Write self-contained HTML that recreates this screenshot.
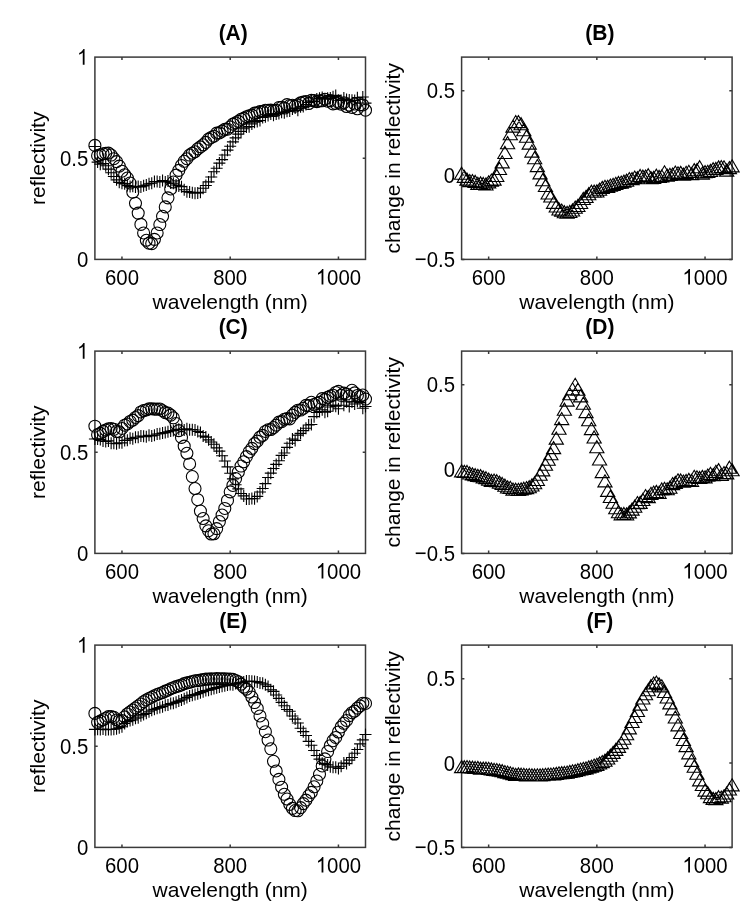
<!DOCTYPE html>
<html><head><meta charset="utf-8"><style>
html,body{margin:0;padding:0;background:#fff;}
svg{display:block;filter:blur(0.35px);}
text{font-family:"Liberation Sans",sans-serif;font-size:21px;fill:#000;}
.ax{fill:none;stroke:#3a3a3a;stroke-width:1.5;}
.mk{fill:none;stroke:#000;stroke-width:1.1;}
</style></head><body>
<svg width="750" height="910" viewBox="0 0 750 910">
<rect width="750" height="910" fill="#fff"/>
<rect x="94.9" y="57.1" width="270.60" height="202.30" class="ax"/>
<path d="M121.96 57.1v2.8M121.96 259.4v-2.8M230.20 57.1v2.8M230.20 259.4v-2.8M338.44 57.1v2.8M338.44 259.4v-2.8M94.9 158.25h2.8M365.5 158.25h-2.8" class="ax"/>
<text transform="translate(121.96,284.60) scale(0.97,1.08)" text-anchor="middle">600</text>
<text transform="translate(230.20,284.60) scale(0.97,1.08)" text-anchor="middle">800</text>
<path transform="translate(315.78,284.60) scale(0.00995,-0.01107)" d="M763 0H583V1098Q518 1038 412 979Q307 920 223 890V1057Q374 1124 487 1221Q600 1318 647 1409H763Z" fill="#000"/>
<text transform="translate(327.11,284.60) scale(0.97,1.08)">000</text>
<text transform="translate(88.30,267.00) scale(0.97,1.08)" text-anchor="end">0</text>
<text transform="translate(88.30,165.85) scale(0.97,1.08)" text-anchor="end">0.5</text>
<path transform="translate(76.97,64.70) scale(0.00995,-0.01107)" d="M763 0H583V1098Q518 1038 412 979Q307 920 223 890V1057Q374 1124 487 1221Q600 1318 647 1409H763Z" fill="#000"/>
<text x="230.20" y="309.0" text-anchor="middle">wavelength (nm)</text>
<text transform="translate(45,158.25) rotate(-90)" text-anchor="middle">reflectivity</text>
<text transform="translate(233.20,40.20) scale(1.0,1.06)" text-anchor="middle" font-weight="bold">(A)</text>
<rect x="461.6" y="57.1" width="270.50" height="202.30" class="ax"/>
<path d="M488.65 57.1v2.8M488.65 259.4v-2.8M596.85 57.1v2.8M596.85 259.4v-2.8M705.05 57.1v2.8M705.05 259.4v-2.8M461.6 259.40h2.8M732.1 259.40h-2.8M461.6 175.11h2.8M732.1 175.11h-2.8M461.6 90.82h2.8M732.1 90.82h-2.8" class="ax"/>
<text transform="translate(488.65,284.60) scale(0.97,1.08)" text-anchor="middle">600</text>
<text transform="translate(596.85,284.60) scale(0.97,1.08)" text-anchor="middle">800</text>
<path transform="translate(682.39,284.60) scale(0.00995,-0.01107)" d="M763 0H583V1098Q518 1038 412 979Q307 920 223 890V1057Q374 1124 487 1221Q600 1318 647 1409H763Z" fill="#000"/>
<text transform="translate(693.72,284.60) scale(0.97,1.08)">000</text>
<text transform="translate(455.00,267.00) scale(0.97,1.08)" text-anchor="end">−0.5</text>
<text transform="translate(455.00,182.71) scale(0.97,1.08)" text-anchor="end">0</text>
<text transform="translate(455.00,98.42) scale(0.97,1.08)" text-anchor="end">0.5</text>
<text x="596.85" y="309.0" text-anchor="middle">wavelength (nm)</text>
<text transform="translate(399.7,158.25) rotate(-90)" text-anchor="middle">change in reflectivity</text>
<text transform="translate(599.85,40.20) scale(1.0,1.06)" text-anchor="middle" font-weight="bold">(B)</text>
<rect x="94.9" y="351.1" width="270.60" height="202.30" class="ax"/>
<path d="M121.96 351.1v2.8M121.96 553.4v-2.8M230.20 351.1v2.8M230.20 553.4v-2.8M338.44 351.1v2.8M338.44 553.4v-2.8M94.9 452.25h2.8M365.5 452.25h-2.8" class="ax"/>
<text transform="translate(121.96,578.60) scale(0.97,1.08)" text-anchor="middle">600</text>
<text transform="translate(230.20,578.60) scale(0.97,1.08)" text-anchor="middle">800</text>
<path transform="translate(315.78,578.60) scale(0.00995,-0.01107)" d="M763 0H583V1098Q518 1038 412 979Q307 920 223 890V1057Q374 1124 487 1221Q600 1318 647 1409H763Z" fill="#000"/>
<text transform="translate(327.11,578.60) scale(0.97,1.08)">000</text>
<text transform="translate(88.30,561.00) scale(0.97,1.08)" text-anchor="end">0</text>
<text transform="translate(88.30,459.85) scale(0.97,1.08)" text-anchor="end">0.5</text>
<path transform="translate(76.97,358.70) scale(0.00995,-0.01107)" d="M763 0H583V1098Q518 1038 412 979Q307 920 223 890V1057Q374 1124 487 1221Q600 1318 647 1409H763Z" fill="#000"/>
<text x="230.20" y="603.0" text-anchor="middle">wavelength (nm)</text>
<text transform="translate(45,452.25) rotate(-90)" text-anchor="middle">reflectivity</text>
<text transform="translate(233.20,334.20) scale(1.0,1.06)" text-anchor="middle" font-weight="bold">(C)</text>
<rect x="461.6" y="351.1" width="270.50" height="202.30" class="ax"/>
<path d="M488.65 351.1v2.8M488.65 553.4v-2.8M596.85 351.1v2.8M596.85 553.4v-2.8M705.05 351.1v2.8M705.05 553.4v-2.8M461.6 553.40h2.8M732.1 553.40h-2.8M461.6 469.11h2.8M732.1 469.11h-2.8M461.6 384.82h2.8M732.1 384.82h-2.8" class="ax"/>
<text transform="translate(488.65,578.60) scale(0.97,1.08)" text-anchor="middle">600</text>
<text transform="translate(596.85,578.60) scale(0.97,1.08)" text-anchor="middle">800</text>
<path transform="translate(682.39,578.60) scale(0.00995,-0.01107)" d="M763 0H583V1098Q518 1038 412 979Q307 920 223 890V1057Q374 1124 487 1221Q600 1318 647 1409H763Z" fill="#000"/>
<text transform="translate(693.72,578.60) scale(0.97,1.08)">000</text>
<text transform="translate(455.00,561.00) scale(0.97,1.08)" text-anchor="end">−0.5</text>
<text transform="translate(455.00,476.71) scale(0.97,1.08)" text-anchor="end">0</text>
<text transform="translate(455.00,392.42) scale(0.97,1.08)" text-anchor="end">0.5</text>
<text x="596.85" y="603.0" text-anchor="middle">wavelength (nm)</text>
<text transform="translate(399.7,452.25) rotate(-90)" text-anchor="middle">change in reflectivity</text>
<text transform="translate(599.85,334.20) scale(1.0,1.06)" text-anchor="middle" font-weight="bold">(D)</text>
<rect x="94.9" y="645.1" width="270.60" height="202.30" class="ax"/>
<path d="M121.96 645.1v2.8M121.96 847.4v-2.8M230.20 645.1v2.8M230.20 847.4v-2.8M338.44 645.1v2.8M338.44 847.4v-2.8M94.9 746.25h2.8M365.5 746.25h-2.8" class="ax"/>
<text transform="translate(121.96,872.60) scale(0.97,1.08)" text-anchor="middle">600</text>
<text transform="translate(230.20,872.60) scale(0.97,1.08)" text-anchor="middle">800</text>
<path transform="translate(315.78,872.60) scale(0.00995,-0.01107)" d="M763 0H583V1098Q518 1038 412 979Q307 920 223 890V1057Q374 1124 487 1221Q600 1318 647 1409H763Z" fill="#000"/>
<text transform="translate(327.11,872.60) scale(0.97,1.08)">000</text>
<text transform="translate(88.30,855.00) scale(0.97,1.08)" text-anchor="end">0</text>
<text transform="translate(88.30,753.85) scale(0.97,1.08)" text-anchor="end">0.5</text>
<path transform="translate(76.97,652.70) scale(0.00995,-0.01107)" d="M763 0H583V1098Q518 1038 412 979Q307 920 223 890V1057Q374 1124 487 1221Q600 1318 647 1409H763Z" fill="#000"/>
<text x="230.20" y="897.0" text-anchor="middle">wavelength (nm)</text>
<text transform="translate(45,746.25) rotate(-90)" text-anchor="middle">reflectivity</text>
<text transform="translate(233.20,628.20) scale(1.0,1.06)" text-anchor="middle" font-weight="bold">(E)</text>
<rect x="461.6" y="645.1" width="270.50" height="202.30" class="ax"/>
<path d="M488.65 645.1v2.8M488.65 847.4v-2.8M596.85 645.1v2.8M596.85 847.4v-2.8M705.05 645.1v2.8M705.05 847.4v-2.8M461.6 847.40h2.8M732.1 847.40h-2.8M461.6 763.11h2.8M732.1 763.11h-2.8M461.6 678.82h2.8M732.1 678.82h-2.8" class="ax"/>
<text transform="translate(488.65,872.60) scale(0.97,1.08)" text-anchor="middle">600</text>
<text transform="translate(596.85,872.60) scale(0.97,1.08)" text-anchor="middle">800</text>
<path transform="translate(682.39,872.60) scale(0.00995,-0.01107)" d="M763 0H583V1098Q518 1038 412 979Q307 920 223 890V1057Q374 1124 487 1221Q600 1318 647 1409H763Z" fill="#000"/>
<text transform="translate(693.72,872.60) scale(0.97,1.08)">000</text>
<text transform="translate(455.00,855.00) scale(0.97,1.08)" text-anchor="end">−0.5</text>
<text transform="translate(455.00,770.71) scale(0.97,1.08)" text-anchor="end">0</text>
<text transform="translate(455.00,686.42) scale(0.97,1.08)" text-anchor="end">0.5</text>
<text x="596.85" y="897.0" text-anchor="middle">wavelength (nm)</text>
<text transform="translate(399.7,746.25) rotate(-90)" text-anchor="middle">change in reflectivity</text>
<text transform="translate(599.85,628.20) scale(1.0,1.06)" text-anchor="middle" font-weight="bold">(F)</text>
<g class="mk">
<circle cx="94.90" cy="145.40" r="6.0"/>
<circle cx="97.61" cy="155.65" r="6.0"/>
<circle cx="100.31" cy="154.86" r="6.0"/>
<circle cx="103.02" cy="153.75" r="6.0"/>
<circle cx="105.72" cy="153.37" r="6.0"/>
<circle cx="108.43" cy="153.10" r="6.0"/>
<circle cx="111.14" cy="155.06" r="6.0"/>
<circle cx="113.84" cy="158.72" r="6.0"/>
<circle cx="116.55" cy="161.67" r="6.0"/>
<circle cx="119.25" cy="166.11" r="6.0"/>
<circle cx="121.96" cy="171.19" r="6.0"/>
<circle cx="124.67" cy="174.74" r="6.0"/>
<circle cx="127.37" cy="178.07" r="6.0"/>
<circle cx="130.08" cy="183.03" r="6.0"/>
<circle cx="132.78" cy="192.12" r="6.0"/>
<circle cx="135.49" cy="203.27" r="6.0"/>
<circle cx="138.20" cy="213.12" r="6.0"/>
<circle cx="140.90" cy="224.41" r="6.0"/>
<circle cx="143.61" cy="232.93" r="6.0"/>
<circle cx="146.31" cy="240.26" r="6.0"/>
<circle cx="149.02" cy="243.22" r="6.0"/>
<circle cx="151.73" cy="243.59" r="6.0"/>
<circle cx="154.43" cy="239.34" r="6.0"/>
<circle cx="157.14" cy="232.93" r="6.0"/>
<circle cx="159.84" cy="224.55" r="6.0"/>
<circle cx="162.55" cy="216.28" r="6.0"/>
<circle cx="165.26" cy="206.88" r="6.0"/>
<circle cx="167.96" cy="197.86" r="6.0"/>
<circle cx="170.67" cy="188.95" r="6.0"/>
<circle cx="173.37" cy="182.01" r="6.0"/>
<circle cx="176.08" cy="175.12" r="6.0"/>
<circle cx="178.79" cy="170.40" r="6.0"/>
<circle cx="181.49" cy="165.45" r="6.0"/>
<circle cx="184.20" cy="161.32" r="6.0"/>
<circle cx="186.90" cy="158.74" r="6.0"/>
<circle cx="189.61" cy="155.07" r="6.0"/>
<circle cx="192.32" cy="153.23" r="6.0"/>
<circle cx="195.02" cy="151.68" r="6.0"/>
<circle cx="197.73" cy="148.85" r="6.0"/>
<circle cx="200.43" cy="146.92" r="6.0"/>
<circle cx="203.14" cy="144.78" r="6.0"/>
<circle cx="205.85" cy="142.36" r="6.0"/>
<circle cx="208.55" cy="139.13" r="6.0"/>
<circle cx="211.26" cy="137.44" r="6.0"/>
<circle cx="213.96" cy="136.23" r="6.0"/>
<circle cx="216.67" cy="133.17" r="6.0"/>
<circle cx="219.38" cy="132.92" r="6.0"/>
<circle cx="222.08" cy="131.16" r="6.0"/>
<circle cx="224.79" cy="129.37" r="6.0"/>
<circle cx="227.49" cy="129.18" r="6.0"/>
<circle cx="230.20" cy="126.88" r="6.0"/>
<circle cx="232.91" cy="124.10" r="6.0"/>
<circle cx="235.61" cy="122.89" r="6.0"/>
<circle cx="238.32" cy="121.35" r="6.0"/>
<circle cx="241.02" cy="119.31" r="6.0"/>
<circle cx="243.73" cy="118.33" r="6.0"/>
<circle cx="246.44" cy="116.70" r="6.0"/>
<circle cx="249.14" cy="115.87" r="6.0"/>
<circle cx="251.85" cy="115.15" r="6.0"/>
<circle cx="254.55" cy="113.10" r="6.0"/>
<circle cx="257.26" cy="112.69" r="6.0"/>
<circle cx="259.97" cy="111.67" r="6.0"/>
<circle cx="262.67" cy="111.48" r="6.0"/>
<circle cx="265.38" cy="110.22" r="6.0"/>
<circle cx="268.08" cy="110.22" r="6.0"/>
<circle cx="270.79" cy="110.11" r="6.0"/>
<circle cx="273.50" cy="110.57" r="6.0"/>
<circle cx="276.20" cy="110.33" r="6.0"/>
<circle cx="278.91" cy="107.56" r="6.0"/>
<circle cx="281.61" cy="107.34" r="6.0"/>
<circle cx="284.32" cy="108.07" r="6.0"/>
<circle cx="287.03" cy="104.66" r="6.0"/>
<circle cx="289.73" cy="105.55" r="6.0"/>
<circle cx="292.44" cy="105.25" r="6.0"/>
<circle cx="295.14" cy="106.19" r="6.0"/>
<circle cx="297.85" cy="104.90" r="6.0"/>
<circle cx="300.56" cy="102.92" r="6.0"/>
<circle cx="303.26" cy="102.08" r="6.0"/>
<circle cx="305.97" cy="101.50" r="6.0"/>
<circle cx="308.67" cy="103.50" r="6.0"/>
<circle cx="311.38" cy="100.37" r="6.0"/>
<circle cx="314.09" cy="100.53" r="6.0"/>
<circle cx="316.79" cy="101.59" r="6.0"/>
<circle cx="319.50" cy="100.86" r="6.0"/>
<circle cx="322.20" cy="100.78" r="6.0"/>
<circle cx="324.91" cy="99.22" r="6.0"/>
<circle cx="327.62" cy="101.24" r="6.0"/>
<circle cx="330.32" cy="100.61" r="6.0"/>
<circle cx="333.03" cy="103.90" r="6.0"/>
<circle cx="335.73" cy="103.28" r="6.0"/>
<circle cx="338.44" cy="102.32" r="6.0"/>
<circle cx="341.15" cy="104.17" r="6.0"/>
<circle cx="343.85" cy="102.71" r="6.0"/>
<circle cx="346.56" cy="106.50" r="6.0"/>
<circle cx="349.26" cy="105.15" r="6.0"/>
<circle cx="351.97" cy="107.42" r="6.0"/>
<circle cx="354.68" cy="104.06" r="6.0"/>
<circle cx="357.38" cy="108.77" r="6.0"/>
<circle cx="360.09" cy="104.88" r="6.0"/>
<circle cx="362.79" cy="104.96" r="6.0"/>
<circle cx="365.50" cy="110.24" r="6.0"/>
<path d="M88.90 146.55h12M94.90 140.55v12M91.61 162.09h12M97.61 156.09v12M94.31 164.13h12M100.31 158.13v12M97.02 163.59h12M103.02 157.59v12M99.72 165.71h12M105.72 159.71v12M102.43 169.14h12M108.43 163.14v12M105.14 172.80h12M111.14 166.80v12M107.84 176.47h12M113.84 170.47v12M110.55 179.85h12M116.55 173.85v12M113.25 182.33h12M119.25 176.33v12M115.96 183.24h12M121.96 177.24v12M118.67 183.83h12M124.67 177.83v12M121.37 185.61h12M127.37 179.61v12M124.08 186.53h12M130.08 180.53v12M126.78 186.25h12M132.78 180.25v12M129.49 187.08h12M135.49 181.08v12M132.20 186.57h12M138.20 180.57v12M134.90 187.06h12M140.90 181.06v12M137.61 185.83h12M143.61 179.83v12M140.31 184.96h12M146.31 178.96v12M143.02 183.80h12M149.02 177.80v12M145.73 183.19h12M151.73 177.19v12M148.43 181.59h12M154.43 175.59v12M151.14 181.62h12M157.14 175.62v12M153.84 182.01h12M159.84 176.01v12M156.55 180.52h12M162.55 174.52v12M159.26 181.93h12M165.26 175.93v12M161.96 181.03h12M167.96 175.03v12M164.67 183.10h12M170.67 177.10v12M167.37 183.20h12M173.37 177.20v12M170.08 185.04h12M176.08 179.04v12M172.79 185.96h12M178.79 179.96v12M175.49 186.65h12M181.49 180.65v12M178.20 189.75h12M184.20 183.75v12M180.90 191.66h12M186.90 185.66v12M183.61 192.08h12M189.61 186.08v12M186.32 192.73h12M192.32 186.73v12M189.02 193.26h12M195.02 187.26v12M191.73 192.88h12M197.73 186.88v12M194.43 192.21h12M200.43 186.21v12M197.14 188.26h12M203.14 182.26v12M199.85 185.53h12M205.85 179.53v12M202.55 181.89h12M208.55 175.89v12M205.26 177.07h12M211.26 171.07v12M207.96 171.71h12M213.96 165.71v12M210.67 168.18h12M216.67 162.18v12M213.38 163.12h12M219.38 157.12v12M216.08 159.66h12M222.08 153.66v12M218.79 154.98h12M224.79 148.98v12M221.49 150.16h12M227.49 144.16v12M224.20 146.30h12M230.20 140.30v12M226.91 141.90h12M232.91 135.90v12M229.61 137.85h12M235.61 131.85v12M232.32 134.13h12M238.32 128.13v12M235.02 131.40h12M241.02 125.40v12M237.73 128.72h12M243.73 122.72v12M240.44 127.12h12M246.44 121.12v12M243.14 126.66h12M249.14 120.66v12M245.85 123.90h12M251.85 117.90v12M248.55 122.17h12M254.55 116.17v12M251.26 121.38h12M257.26 115.38v12M253.97 120.54h12M259.97 114.54v12M256.67 117.42h12M262.67 111.42v12M259.38 116.84h12M265.38 110.84v12M262.08 115.56h12M268.08 109.56v12M264.79 113.92h12M270.79 107.92v12M267.50 115.16h12M273.50 109.16v12M270.20 113.95h12M276.20 107.95v12M272.91 113.49h12M278.91 107.49v12M275.61 112.15h12M281.61 106.15v12M278.32 112.76h12M284.32 106.76v12M281.03 111.15h12M287.03 105.15v12M283.73 110.91h12M289.73 104.91v12M286.44 109.06h12M292.44 103.06v12M289.14 108.04h12M295.14 102.04v12M291.85 110.23h12M297.85 104.23v12M294.56 106.73h12M300.56 100.73v12M297.26 106.38h12M303.26 100.38v12M299.97 104.44h12M305.97 98.44v12M302.67 102.39h12M308.67 96.39v12M305.38 100.99h12M311.38 94.99v12M308.09 101.62h12M314.09 95.62v12M310.79 98.99h12M316.79 92.99v12M313.50 98.13h12M319.50 92.13v12M316.20 97.56h12M322.20 91.56v12M318.91 99.11h12M324.91 93.11v12M321.62 98.28h12M327.62 92.28v12M324.32 98.03h12M330.32 92.03v12M327.03 96.63h12M333.03 90.63v12M329.73 95.39h12M335.73 89.39v12M332.44 100.25h12M338.44 94.25v12M335.15 100.38h12M341.15 94.38v12M337.85 98.10h12M343.85 92.10v12M340.56 99.57h12M346.56 93.57v12M343.26 100.12h12M349.26 94.12v12M345.97 100.27h12M351.97 94.27v12M348.68 100.53h12M354.68 94.53v12M351.38 97.64h12M357.38 91.64v12M354.09 102.95h12M360.09 96.95v12M356.79 97.06h12M362.79 91.06v12M359.50 103.15h12M365.50 97.15v12"/>
<path d="M461.60 167.20L468.70 179.30H454.50ZM464.31 170.27L471.41 182.37H457.20ZM467.01 172.98L474.11 185.08H459.91ZM469.72 174.54L476.82 186.64H462.62ZM472.42 174.58L479.52 186.68H465.32ZM475.12 175.37L482.23 187.47H468.02ZM477.83 177.29L484.93 189.39H470.73ZM480.54 176.86L487.64 188.96H473.44ZM483.24 177.44L490.34 189.54H476.14ZM485.95 177.87L493.05 189.97H478.85ZM488.65 175.78L495.75 187.88H481.55ZM491.36 173.99L498.46 186.09H484.25ZM494.06 173.02L501.16 185.12H486.96ZM496.77 169.36L503.87 181.46H489.67ZM499.47 162.41L506.57 174.51H492.37ZM502.18 155.82L509.28 167.92H495.07ZM504.88 146.39L511.98 158.49H497.78ZM507.59 136.61L514.69 148.71H500.49ZM510.29 127.67L517.39 139.77H503.19ZM513.00 120.06L520.10 132.16H505.89ZM515.70 115.50L522.80 127.60H508.60ZM518.40 115.50L525.50 127.60H511.30ZM521.11 117.67L528.21 129.77H514.01ZM523.82 123.70L530.92 135.80H516.72ZM526.52 130.11L533.62 142.21H519.42ZM529.23 137.01L536.33 149.11H522.12ZM531.93 144.99L539.03 157.09H524.83ZM534.63 151.70L541.74 163.80H527.53ZM537.34 159.57L544.44 171.67H530.24ZM540.05 166.82L547.15 178.92H532.95ZM542.75 173.60L549.85 185.70H535.65ZM545.46 179.43L552.56 191.53H538.36ZM548.16 186.83L555.26 198.93H541.06ZM550.87 189.94L557.97 202.04H543.76ZM553.57 196.29L560.67 208.39H546.47ZM556.27 199.84L563.38 211.94H549.17ZM558.98 202.83L566.08 214.93H551.88ZM561.69 204.09L568.79 216.19H554.59ZM564.39 205.67L571.49 217.77H557.29ZM567.10 206.22L574.20 218.32H560.00ZM569.80 205.44L576.90 217.54H562.70ZM572.50 203.90L579.61 216.00H565.40ZM575.21 201.13L582.31 213.23H568.11ZM577.91 199.46L585.01 211.56H570.81ZM580.62 196.34L587.72 208.44H573.52ZM583.33 192.41L590.43 204.51H576.23ZM586.03 190.43L593.13 202.53H578.93ZM588.74 187.64L595.84 199.74H581.63ZM591.44 185.20L598.54 197.30H584.34ZM594.14 185.12L601.25 197.22H587.04ZM596.85 184.89L603.95 196.99H589.75ZM599.56 183.16L606.66 195.26H592.46ZM602.26 181.35L609.36 193.45H595.16ZM604.97 180.26L612.07 192.36H597.87ZM607.67 180.29L614.77 192.39H600.57ZM610.38 179.03L617.48 191.13H603.27ZM613.08 178.25L620.18 190.35H605.98ZM615.79 177.34L622.89 189.44H608.69ZM618.49 176.46L625.59 188.56H611.39ZM621.20 176.00L628.30 188.10H614.10ZM623.90 175.12L631.00 187.22H616.80ZM626.61 174.19L633.71 186.29H619.50ZM629.31 172.54L636.41 184.64H622.21ZM632.01 172.57L639.12 184.67H624.91ZM634.72 171.02L641.82 183.12H627.62ZM637.43 171.67L644.53 183.77H630.33ZM640.13 169.42L647.23 181.52H633.03ZM642.84 170.12L649.94 182.22H635.74ZM645.54 170.08L652.64 182.18H638.44ZM648.25 168.71L655.35 180.81H641.14ZM650.95 171.60L658.05 183.70H643.85ZM653.65 171.31L660.75 183.41H646.55ZM656.36 169.16L663.46 181.26H649.26ZM659.07 170.40L666.17 182.50H651.97ZM661.77 169.76L668.87 181.86H654.67ZM664.48 165.76L671.58 177.86H657.38ZM667.18 169.02L674.28 181.12H660.08ZM669.88 168.25L676.99 180.35H662.78ZM672.59 168.06L679.69 180.16H665.49ZM675.30 165.99L682.40 178.09H668.20ZM678.00 166.74L685.10 178.84H670.90ZM680.71 166.39L687.81 178.49H673.61ZM683.41 168.07L690.51 180.17H676.31ZM686.12 166.24L693.22 178.34H679.01ZM688.82 165.24L695.92 177.34H681.72ZM691.53 167.56L698.63 179.66H684.43ZM694.23 163.61L701.33 175.71H687.13ZM696.94 163.65L704.04 175.75H689.84ZM699.64 160.70L706.74 172.80H692.54ZM702.35 166.98L709.45 179.08H695.25ZM705.05 165.60L712.15 177.70H697.95ZM707.75 165.23L714.86 177.33H700.65ZM710.46 164.35L717.56 176.45H703.36ZM713.16 162.69L720.26 174.79H706.06ZM715.87 162.42L722.97 174.52H708.77ZM718.58 160.89L725.68 172.99H711.48ZM721.28 160.57L728.38 172.67H714.18ZM723.99 160.84L731.09 172.94H716.88ZM726.69 164.05L733.79 176.15H719.59ZM729.39 161.53L736.50 173.63H722.29ZM732.10 159.80L739.20 171.90H725.00Z"/>
<circle cx="94.90" cy="426.21" r="6.0"/>
<circle cx="97.61" cy="434.67" r="6.0"/>
<circle cx="100.31" cy="433.39" r="6.0"/>
<circle cx="103.02" cy="431.37" r="6.0"/>
<circle cx="105.72" cy="430.00" r="6.0"/>
<circle cx="108.43" cy="428.87" r="6.0"/>
<circle cx="111.14" cy="428.45" r="6.0"/>
<circle cx="113.84" cy="429.32" r="6.0"/>
<circle cx="116.55" cy="431.50" r="6.0"/>
<circle cx="119.25" cy="431.80" r="6.0"/>
<circle cx="121.96" cy="428.47" r="6.0"/>
<circle cx="124.67" cy="425.21" r="6.0"/>
<circle cx="127.37" cy="423.97" r="6.0"/>
<circle cx="130.08" cy="421.44" r="6.0"/>
<circle cx="132.78" cy="420.16" r="6.0"/>
<circle cx="135.49" cy="417.43" r="6.0"/>
<circle cx="138.20" cy="415.59" r="6.0"/>
<circle cx="140.90" cy="411.94" r="6.0"/>
<circle cx="143.61" cy="410.51" r="6.0"/>
<circle cx="146.31" cy="409.99" r="6.0"/>
<circle cx="149.02" cy="408.86" r="6.0"/>
<circle cx="151.73" cy="408.70" r="6.0"/>
<circle cx="154.43" cy="409.10" r="6.0"/>
<circle cx="157.14" cy="409.12" r="6.0"/>
<circle cx="159.84" cy="408.98" r="6.0"/>
<circle cx="162.55" cy="410.72" r="6.0"/>
<circle cx="165.26" cy="412.67" r="6.0"/>
<circle cx="167.96" cy="413.04" r="6.0"/>
<circle cx="170.67" cy="415.15" r="6.0"/>
<circle cx="173.37" cy="417.80" r="6.0"/>
<circle cx="176.08" cy="423.54" r="6.0"/>
<circle cx="178.79" cy="430.64" r="6.0"/>
<circle cx="181.49" cy="437.40" r="6.0"/>
<circle cx="184.20" cy="446.15" r="6.0"/>
<circle cx="186.90" cy="453.26" r="6.0"/>
<circle cx="189.61" cy="463.97" r="6.0"/>
<circle cx="192.32" cy="476.56" r="6.0"/>
<circle cx="195.02" cy="488.51" r="6.0"/>
<circle cx="197.73" cy="499.71" r="6.0"/>
<circle cx="200.43" cy="511.06" r="6.0"/>
<circle cx="203.14" cy="518.52" r="6.0"/>
<circle cx="205.85" cy="525.84" r="6.0"/>
<circle cx="208.55" cy="530.69" r="6.0"/>
<circle cx="211.26" cy="534.02" r="6.0"/>
<circle cx="213.96" cy="533.76" r="6.0"/>
<circle cx="216.67" cy="528.62" r="6.0"/>
<circle cx="219.38" cy="521.55" r="6.0"/>
<circle cx="222.08" cy="515.02" r="6.0"/>
<circle cx="224.79" cy="508.46" r="6.0"/>
<circle cx="227.49" cy="500.46" r="6.0"/>
<circle cx="230.20" cy="491.85" r="6.0"/>
<circle cx="232.91" cy="485.43" r="6.0"/>
<circle cx="235.61" cy="478.54" r="6.0"/>
<circle cx="238.32" cy="472.20" r="6.0"/>
<circle cx="241.02" cy="466.03" r="6.0"/>
<circle cx="243.73" cy="461.77" r="6.0"/>
<circle cx="246.44" cy="456.62" r="6.0"/>
<circle cx="249.14" cy="451.95" r="6.0"/>
<circle cx="251.85" cy="448.34" r="6.0"/>
<circle cx="254.55" cy="443.64" r="6.0"/>
<circle cx="257.26" cy="441.11" r="6.0"/>
<circle cx="259.97" cy="437.14" r="6.0"/>
<circle cx="262.67" cy="435.34" r="6.0"/>
<circle cx="265.38" cy="431.43" r="6.0"/>
<circle cx="268.08" cy="429.78" r="6.0"/>
<circle cx="270.79" cy="429.52" r="6.0"/>
<circle cx="273.50" cy="427.56" r="6.0"/>
<circle cx="276.20" cy="425.13" r="6.0"/>
<circle cx="278.91" cy="422.14" r="6.0"/>
<circle cx="281.61" cy="421.63" r="6.0"/>
<circle cx="284.32" cy="419.28" r="6.0"/>
<circle cx="287.03" cy="418.65" r="6.0"/>
<circle cx="289.73" cy="418.84" r="6.0"/>
<circle cx="292.44" cy="415.10" r="6.0"/>
<circle cx="295.14" cy="412.33" r="6.0"/>
<circle cx="297.85" cy="410.20" r="6.0"/>
<circle cx="300.56" cy="410.03" r="6.0"/>
<circle cx="303.26" cy="408.29" r="6.0"/>
<circle cx="305.97" cy="405.36" r="6.0"/>
<circle cx="308.67" cy="405.63" r="6.0"/>
<circle cx="311.38" cy="402.32" r="6.0"/>
<circle cx="314.09" cy="404.49" r="6.0"/>
<circle cx="316.79" cy="403.29" r="6.0"/>
<circle cx="319.50" cy="402.27" r="6.0"/>
<circle cx="322.20" cy="398.64" r="6.0"/>
<circle cx="324.91" cy="399.38" r="6.0"/>
<circle cx="327.62" cy="397.36" r="6.0"/>
<circle cx="330.32" cy="396.04" r="6.0"/>
<circle cx="333.03" cy="395.22" r="6.0"/>
<circle cx="335.73" cy="392.45" r="6.0"/>
<circle cx="338.44" cy="391.34" r="6.0"/>
<circle cx="341.15" cy="395.32" r="6.0"/>
<circle cx="343.85" cy="393.10" r="6.0"/>
<circle cx="346.56" cy="394.06" r="6.0"/>
<circle cx="349.26" cy="396.06" r="6.0"/>
<circle cx="351.97" cy="390.32" r="6.0"/>
<circle cx="354.68" cy="392.84" r="6.0"/>
<circle cx="357.38" cy="395.50" r="6.0"/>
<circle cx="360.09" cy="396.44" r="6.0"/>
<circle cx="362.79" cy="395.05" r="6.0"/>
<circle cx="365.50" cy="399.07" r="6.0"/>
<path d="M88.90 439.06h12M94.90 433.06v12M91.61 438.90h12M97.61 432.90v12M94.31 439.59h12M100.31 433.59v12M97.02 441.00h12M103.02 435.00v12M99.72 441.39h12M105.72 435.39v12M102.43 440.89h12M108.43 434.89v12M105.14 443.19h12M111.14 437.19v12M107.84 443.25h12M113.84 437.25v12M110.55 443.67h12M116.55 437.67v12M113.25 442.81h12M119.25 436.81v12M115.96 442.85h12M121.96 436.85v12M118.67 440.43h12M124.67 434.43v12M121.37 440.16h12M127.37 434.16v12M124.08 438.19h12M130.08 432.19v12M126.78 438.65h12M132.78 432.65v12M129.49 437.21h12M135.49 431.21v12M132.20 437.32h12M138.20 431.32v12M134.90 436.04h12M140.90 430.04v12M137.61 436.33h12M143.61 430.33v12M140.31 436.69h12M146.31 430.69v12M143.02 435.24h12M149.02 429.24v12M145.73 436.04h12M151.73 430.04v12M148.43 435.26h12M154.43 429.26v12M151.14 434.07h12M157.14 428.07v12M153.84 433.73h12M159.84 427.73v12M156.55 433.08h12M162.55 427.08v12M159.26 432.59h12M165.26 426.59v12M161.96 431.68h12M167.96 425.68v12M164.67 430.95h12M170.67 424.95v12M167.37 430.62h12M173.37 424.62v12M170.08 429.74h12M176.08 423.74v12M172.79 429.28h12M178.79 423.28v12M175.49 429.67h12M181.49 423.67v12M178.20 429.98h12M184.20 423.98v12M180.90 428.75h12M186.90 422.75v12M183.61 429.67h12M189.61 423.67v12M186.32 429.66h12M192.32 423.66v12M189.02 429.97h12M195.02 423.97v12M191.73 431.49h12M197.73 425.49v12M194.43 432.51h12M200.43 426.51v12M197.14 436.02h12M203.14 430.02v12M199.85 437.08h12M205.85 431.08v12M202.55 439.87h12M208.55 433.87v12M205.26 441.94h12M211.26 435.94v12M207.96 444.27h12M213.96 438.27v12M210.67 447.90h12M216.67 441.90v12M213.38 451.10h12M219.38 445.10v12M216.08 455.79h12M222.08 449.79v12M218.79 461.01h12M224.79 455.01v12M221.49 466.85h12M227.49 460.85v12M224.20 473.25h12M230.20 467.25v12M226.91 478.84h12M232.91 472.84v12M229.61 484.78h12M235.61 478.78v12M232.32 488.84h12M238.32 482.84v12M235.02 493.47h12M241.02 487.47v12M237.73 495.92h12M243.73 489.92v12M240.44 499.05h12M246.44 493.05v12M243.14 499.06h12M249.14 493.06v12M245.85 498.49h12M251.85 492.49v12M248.55 498.74h12M254.55 492.74v12M251.26 496.42h12M257.26 490.42v12M253.97 491.95h12M259.97 485.95v12M256.67 488.52h12M262.67 482.52v12M259.38 483.58h12M265.38 477.58v12M262.08 477.43h12M268.08 471.43v12M264.79 473.17h12M270.79 467.17v12M267.50 468.52h12M273.50 462.52v12M270.20 464.41h12M276.20 458.41v12M272.91 460.80h12M278.91 454.80v12M275.61 455.36h12M281.61 449.36v12M278.32 452.98h12M284.32 446.98v12M281.03 447.39h12M287.03 441.39v12M283.73 443.18h12M289.73 437.18v12M286.44 438.99h12M292.44 432.99v12M289.14 440.39h12M295.14 434.39v12M291.85 435.15h12M297.85 429.15v12M294.56 433.34h12M300.56 427.34v12M297.26 430.59h12M303.26 424.59v12M299.97 428.23h12M305.97 422.23v12M302.67 424.96h12M308.67 418.96v12M305.38 424.43h12M311.38 418.43v12M308.09 416.67h12M314.09 410.67v12M310.79 412.51h12M316.79 406.51v12M313.50 411.51h12M319.50 405.51v12M316.20 409.82h12M322.20 403.82v12M318.91 412.29h12M324.91 406.29v12M321.62 411.32h12M327.62 405.32v12M324.32 406.98h12M330.32 400.98v12M327.03 405.11h12M333.03 399.11v12M329.73 406.13h12M335.73 400.13v12M332.44 408.74h12M338.44 402.74v12M335.15 399.23h12M341.15 393.23v12M337.85 405.31h12M343.85 399.31v12M340.56 401.70h12M346.56 395.70v12M343.26 406.47h12M349.26 400.47v12M345.97 402.00h12M351.97 396.00v12M348.68 403.98h12M354.68 397.98v12M351.38 401.33h12M357.38 395.33v12M354.09 402.65h12M360.09 396.65v12M356.79 408.26h12M362.79 402.26v12M359.50 406.55h12M365.50 400.55v12"/>
<path d="M461.60 464.75L468.70 476.85H454.50ZM464.31 465.24L471.41 477.34H457.20ZM467.01 465.46L474.11 477.56H459.91ZM469.72 466.95L476.82 479.05H462.62ZM472.42 467.88L479.52 479.98H465.32ZM475.12 468.62L482.23 480.72H468.02ZM477.83 469.38L484.93 481.48H470.73ZM480.54 469.64L487.64 481.74H473.44ZM483.24 470.93L490.34 483.03H476.14ZM485.95 471.69L493.05 483.79H478.85ZM488.65 473.13L495.75 485.23H481.55ZM491.36 474.24L498.46 486.34H484.25ZM494.06 474.08L501.16 486.18H486.96ZM496.77 474.69L503.87 486.79H489.67ZM499.47 476.13L506.57 488.23H492.37ZM502.18 477.42L509.28 489.52H495.07ZM504.88 479.10L511.98 491.20H497.78ZM507.59 480.84L514.69 492.94H500.49ZM510.29 481.33L517.39 493.43H503.19ZM513.00 483.02L520.10 495.12H505.89ZM515.70 483.16L522.80 495.26H508.60ZM518.40 483.32L525.50 495.42H511.30ZM521.11 482.85L528.21 494.95H514.01ZM523.82 482.17L530.92 494.27H516.72ZM526.52 481.49L533.62 493.59H519.42ZM529.23 480.67L536.33 492.77H522.12ZM531.93 478.84L539.03 490.94H524.83ZM534.63 476.71L541.74 488.81H527.53ZM537.34 473.34L544.44 485.44H530.24ZM540.05 468.15L547.15 480.25H532.95ZM542.75 463.80L549.85 475.90H535.65ZM545.46 458.16L552.56 470.26H538.36ZM548.16 453.15L555.26 465.25H541.06ZM550.87 447.72L557.97 459.82H543.76ZM553.57 441.53L560.67 453.63H546.47ZM556.27 432.04L563.38 444.14H549.17ZM558.98 422.13L566.08 434.23H551.88ZM561.69 412.49L568.79 424.59H554.59ZM564.39 403.14L571.49 415.24H557.29ZM567.10 394.06L574.20 406.16H560.00ZM569.80 387.66L576.90 399.76H562.70ZM572.50 382.76L579.61 394.86H565.40ZM575.21 378.24L582.31 390.34H568.11ZM577.91 383.18L585.01 395.28H570.81ZM580.62 389.81L587.72 401.91H573.52ZM583.33 397.11L590.43 409.21H576.23ZM586.03 405.53L593.13 417.63H578.93ZM588.74 413.63L595.84 425.73H581.63ZM591.44 422.55L598.54 434.65H584.34ZM594.14 430.96L601.25 443.06H587.04ZM596.85 440.68L603.95 452.78H589.75ZM599.56 452.95L606.66 465.05H592.46ZM602.26 465.54L609.36 477.64H595.16ZM604.97 474.76L612.07 486.86H597.87ZM607.67 484.25L614.77 496.35H600.57ZM610.38 490.36L617.48 502.46H603.27ZM613.08 496.11L620.18 508.21H605.98ZM615.79 501.59L622.89 513.69H608.69ZM618.49 505.66L625.59 517.76H611.39ZM621.20 507.74L628.30 519.84H614.10ZM623.90 507.44L631.00 519.54H616.80ZM626.61 507.88L633.71 519.98H619.50ZM629.31 505.77L636.41 517.87H622.21ZM632.01 503.02L639.12 515.12H624.91ZM634.72 500.12L641.82 512.22H627.62ZM637.43 496.51L644.53 508.61H630.33ZM640.13 496.30L647.23 508.40H633.03ZM642.84 493.46L649.94 505.56H635.74ZM645.54 489.52L652.64 501.62H638.44ZM648.25 490.56L655.35 502.66H641.14ZM650.95 487.26L658.05 499.36H643.85ZM653.65 486.03L660.75 498.13H646.55ZM656.36 485.38L663.46 497.48H649.26ZM659.07 486.23L666.17 498.33H651.97ZM661.77 482.95L668.87 495.05H654.67ZM664.48 482.27L671.58 494.37H657.38ZM667.18 482.72L674.28 494.82H660.08ZM669.88 481.16L676.99 493.26H662.78ZM672.59 477.55L679.69 489.65H665.49ZM675.30 476.24L682.40 488.34H668.20ZM678.00 473.84L685.10 485.94H670.90ZM680.71 473.93L687.81 486.03H673.61ZM683.41 475.05L690.51 487.15H676.31ZM686.12 474.42L693.22 486.52H679.01ZM688.82 473.35L695.92 485.45H681.72ZM691.53 474.23L698.63 486.33H684.43ZM694.23 470.32L701.33 482.42H687.13ZM696.94 470.76L704.04 482.86H689.84ZM699.64 471.41L706.74 483.51H692.54ZM702.35 470.38L709.45 482.48H695.25ZM705.05 470.77L712.15 482.87H697.95ZM707.75 469.03L714.86 481.13H700.65ZM710.46 467.29L717.56 479.39H703.36ZM713.16 468.51L720.26 480.61H706.06ZM715.87 465.34L722.97 477.44H708.77ZM718.58 463.64L725.68 475.74H711.48ZM721.28 468.38L728.38 480.48H714.18ZM723.99 466.50L731.09 478.60H716.88ZM726.69 466.78L733.79 478.88H719.59ZM729.39 461.17L736.50 473.27H722.29ZM732.10 463.64L739.20 475.74H725.00Z"/>
<circle cx="94.90" cy="713.40" r="6.0"/>
<circle cx="97.61" cy="722.37" r="6.0"/>
<circle cx="100.31" cy="721.16" r="6.0"/>
<circle cx="103.02" cy="719.75" r="6.0"/>
<circle cx="105.72" cy="718.20" r="6.0"/>
<circle cx="108.43" cy="716.65" r="6.0"/>
<circle cx="111.14" cy="716.58" r="6.0"/>
<circle cx="113.84" cy="717.34" r="6.0"/>
<circle cx="116.55" cy="719.95" r="6.0"/>
<circle cx="119.25" cy="720.78" r="6.0"/>
<circle cx="121.96" cy="720.58" r="6.0"/>
<circle cx="124.67" cy="716.90" r="6.0"/>
<circle cx="127.37" cy="713.98" r="6.0"/>
<circle cx="130.08" cy="712.00" r="6.0"/>
<circle cx="132.78" cy="710.00" r="6.0"/>
<circle cx="135.49" cy="707.98" r="6.0"/>
<circle cx="138.20" cy="705.94" r="6.0"/>
<circle cx="140.90" cy="703.93" r="6.0"/>
<circle cx="143.61" cy="701.71" r="6.0"/>
<circle cx="146.31" cy="699.93" r="6.0"/>
<circle cx="149.02" cy="698.46" r="6.0"/>
<circle cx="151.73" cy="697.24" r="6.0"/>
<circle cx="154.43" cy="695.68" r="6.0"/>
<circle cx="157.14" cy="694.54" r="6.0"/>
<circle cx="159.84" cy="693.47" r="6.0"/>
<circle cx="162.55" cy="692.52" r="6.0"/>
<circle cx="165.26" cy="691.16" r="6.0"/>
<circle cx="167.96" cy="690.22" r="6.0"/>
<circle cx="170.67" cy="688.71" r="6.0"/>
<circle cx="173.37" cy="687.72" r="6.0"/>
<circle cx="176.08" cy="686.67" r="6.0"/>
<circle cx="178.79" cy="685.84" r="6.0"/>
<circle cx="181.49" cy="684.93" r="6.0"/>
<circle cx="184.20" cy="683.62" r="6.0"/>
<circle cx="186.90" cy="682.84" r="6.0"/>
<circle cx="189.61" cy="682.26" r="6.0"/>
<circle cx="192.32" cy="681.48" r="6.0"/>
<circle cx="195.02" cy="680.81" r="6.0"/>
<circle cx="197.73" cy="680.66" r="6.0"/>
<circle cx="200.43" cy="680.08" r="6.0"/>
<circle cx="203.14" cy="679.63" r="6.0"/>
<circle cx="205.85" cy="679.12" r="6.0"/>
<circle cx="208.55" cy="679.08" r="6.0"/>
<circle cx="211.26" cy="678.77" r="6.0"/>
<circle cx="213.96" cy="678.97" r="6.0"/>
<circle cx="216.67" cy="678.67" r="6.0"/>
<circle cx="219.38" cy="678.70" r="6.0"/>
<circle cx="222.08" cy="678.89" r="6.0"/>
<circle cx="224.79" cy="678.79" r="6.0"/>
<circle cx="227.49" cy="679.04" r="6.0"/>
<circle cx="230.20" cy="679.05" r="6.0"/>
<circle cx="232.91" cy="679.33" r="6.0"/>
<circle cx="235.61" cy="680.43" r="6.0"/>
<circle cx="238.32" cy="681.70" r="6.0"/>
<circle cx="241.02" cy="684.16" r="6.0"/>
<circle cx="243.73" cy="687.15" r="6.0"/>
<circle cx="246.44" cy="689.08" r="6.0"/>
<circle cx="249.14" cy="692.06" r="6.0"/>
<circle cx="251.85" cy="697.01" r="6.0"/>
<circle cx="254.55" cy="702.56" r="6.0"/>
<circle cx="257.26" cy="708.40" r="6.0"/>
<circle cx="259.97" cy="715.97" r="6.0"/>
<circle cx="262.67" cy="723.56" r="6.0"/>
<circle cx="265.38" cy="731.72" r="6.0"/>
<circle cx="268.08" cy="740.05" r="6.0"/>
<circle cx="270.79" cy="748.78" r="6.0"/>
<circle cx="273.50" cy="761.30" r="6.0"/>
<circle cx="276.20" cy="770.98" r="6.0"/>
<circle cx="278.91" cy="779.41" r="6.0"/>
<circle cx="281.61" cy="787.22" r="6.0"/>
<circle cx="284.32" cy="794.32" r="6.0"/>
<circle cx="287.03" cy="799.01" r="6.0"/>
<circle cx="289.73" cy="804.36" r="6.0"/>
<circle cx="292.44" cy="808.34" r="6.0"/>
<circle cx="295.14" cy="810.54" r="6.0"/>
<circle cx="297.85" cy="810.79" r="6.0"/>
<circle cx="300.56" cy="807.63" r="6.0"/>
<circle cx="303.26" cy="803.63" r="6.0"/>
<circle cx="305.97" cy="800.10" r="6.0"/>
<circle cx="308.67" cy="795.78" r="6.0"/>
<circle cx="311.38" cy="792.36" r="6.0"/>
<circle cx="314.09" cy="786.81" r="6.0"/>
<circle cx="316.79" cy="780.93" r="6.0"/>
<circle cx="319.50" cy="774.29" r="6.0"/>
<circle cx="322.20" cy="765.95" r="6.0"/>
<circle cx="324.91" cy="758.92" r="6.0"/>
<circle cx="327.62" cy="751.54" r="6.0"/>
<circle cx="330.32" cy="745.74" r="6.0"/>
<circle cx="333.03" cy="740.68" r="6.0"/>
<circle cx="335.73" cy="737.48" r="6.0"/>
<circle cx="338.44" cy="732.00" r="6.0"/>
<circle cx="341.15" cy="726.99" r="6.0"/>
<circle cx="343.85" cy="723.31" r="6.0"/>
<circle cx="346.56" cy="720.43" r="6.0"/>
<circle cx="349.26" cy="715.67" r="6.0"/>
<circle cx="351.97" cy="712.68" r="6.0"/>
<circle cx="354.68" cy="711.14" r="6.0"/>
<circle cx="357.38" cy="708.08" r="6.0"/>
<circle cx="360.09" cy="705.92" r="6.0"/>
<circle cx="362.79" cy="703.18" r="6.0"/>
<circle cx="365.50" cy="703.44" r="6.0"/>
<path d="M88.90 729.41h12M94.90 723.41v12M91.61 729.36h12M97.61 723.36v12M94.31 729.56h12M100.31 723.56v12M97.02 728.97h12M103.02 722.97v12M99.72 729.66h12M105.72 723.66v12M102.43 729.38h12M108.43 723.38v12M105.14 729.40h12M111.14 723.40v12M107.84 729.27h12M113.84 723.27v12M110.55 728.73h12M116.55 722.73v12M113.25 727.80h12M119.25 721.80v12M115.96 726.74h12M121.96 720.74v12M118.67 723.49h12M124.67 717.49v12M121.37 721.60h12M127.37 715.60v12M124.08 720.60h12M130.08 714.60v12M126.78 719.86h12M132.78 713.86v12M129.49 718.25h12M135.49 712.25v12M132.20 717.68h12M138.20 711.68v12M134.90 715.84h12M140.90 709.84v12M137.61 714.49h12M143.61 708.49v12M140.31 713.35h12M146.31 707.35v12M143.02 711.69h12M149.02 705.69v12M145.73 710.13h12M151.73 704.13v12M148.43 709.32h12M154.43 703.32v12M151.14 708.24h12M157.14 702.24v12M153.84 707.44h12M159.84 701.44v12M156.55 706.63h12M162.55 700.63v12M159.26 705.19h12M165.26 699.19v12M161.96 704.91h12M167.96 698.91v12M164.67 703.60h12M170.67 697.60v12M167.37 703.19h12M173.37 697.19v12M170.08 702.17h12M176.08 696.17v12M172.79 701.12h12M178.79 695.12v12M175.49 700.04h12M181.49 694.04v12M178.20 698.69h12M184.20 692.69v12M180.90 697.40h12M186.90 691.40v12M183.61 695.88h12M189.61 689.88v12M186.32 695.14h12M192.32 689.14v12M189.02 694.59h12M195.02 688.59v12M191.73 693.69h12M197.73 687.69v12M194.43 692.65h12M200.43 686.65v12M197.14 691.65h12M203.14 685.65v12M199.85 690.51h12M205.85 684.51v12M202.55 690.27h12M208.55 684.27v12M205.26 689.14h12M211.26 683.14v12M207.96 688.41h12M213.96 682.41v12M210.67 687.65h12M216.67 681.65v12M213.38 687.07h12M219.38 681.07v12M216.08 686.28h12M222.08 680.28v12M218.79 685.75h12M224.79 679.75v12M221.49 684.91h12M227.49 678.91v12M224.20 684.55h12M230.20 678.55v12M226.91 684.69h12M232.91 678.69v12M229.61 683.56h12M235.61 677.56v12M232.32 682.93h12M238.32 676.93v12M235.02 682.52h12M241.02 676.52v12M237.73 682.05h12M243.73 676.05v12M240.44 681.08h12M246.44 675.08v12M243.14 680.97h12M249.14 674.97v12M245.85 681.30h12M251.85 675.30v12M248.55 681.46h12M254.55 675.46v12M251.26 681.89h12M257.26 675.89v12M253.97 682.90h12M259.97 676.90v12M256.67 683.23h12M262.67 677.23v12M259.38 684.74h12M265.38 678.74v12M262.08 686.38h12M268.08 680.38v12M264.79 689.76h12M270.79 683.76v12M267.50 691.34h12M273.50 685.34v12M270.20 694.96h12M276.20 688.96v12M272.91 698.38h12M278.91 692.38v12M275.61 702.33h12M281.61 696.33v12M278.32 705.70h12M284.32 699.70v12M281.03 709.51h12M287.03 703.51v12M283.73 711.27h12M289.73 705.27v12M286.44 716.01h12M292.44 710.01v12M289.14 719.08h12M295.14 713.08v12M291.85 723.02h12M297.85 717.02v12M294.56 728.25h12M300.56 722.25v12M297.26 731.65h12M303.26 725.65v12M299.97 735.46h12M305.97 729.46v12M302.67 741.42h12M308.67 735.42v12M305.38 745.32h12M311.38 739.32v12M308.09 750.49h12M314.09 744.49v12M310.79 755.47h12M316.79 749.47v12M313.50 759.16h12M319.50 753.16v12M316.20 763.20h12M322.20 757.20v12M318.91 764.11h12M324.91 758.11v12M321.62 764.91h12M327.62 758.91v12M324.32 766.83h12M330.32 760.83v12M327.03 767.32h12M333.03 761.32v12M329.73 767.31h12M335.73 761.31v12M332.44 768.48h12M338.44 762.48v12M335.15 766.30h12M341.15 760.30v12M337.85 763.03h12M343.85 757.03v12M340.56 763.62h12M346.56 757.62v12M343.26 760.08h12M349.26 754.08v12M345.97 757.44h12M351.97 751.44v12M348.68 753.24h12M354.68 747.24v12M351.38 749.44h12M357.38 743.44v12M354.09 743.88h12M360.09 737.88v12M356.79 739.89h12M362.79 733.89v12M359.50 734.53h12M365.50 728.53v12"/>
<path d="M461.60 760.52L468.70 772.62H454.50ZM464.31 760.69L471.41 772.79H457.20ZM467.01 760.54L474.11 772.64H459.91ZM469.72 760.95L476.82 773.05H462.62ZM472.42 761.14L479.52 773.24H465.32ZM475.12 761.44L482.23 773.54H468.02ZM477.83 761.39L484.93 773.49H470.73ZM480.54 762.14L487.64 774.24H473.44ZM483.24 762.12L490.34 774.22H476.14ZM485.95 762.14L493.05 774.24H478.85ZM488.65 762.33L495.75 774.43H481.55ZM491.36 762.88L498.46 774.98H484.25ZM494.06 763.24L501.16 775.34H486.96ZM496.77 763.49L503.87 775.59H489.67ZM499.47 764.12L506.57 776.22H492.37ZM502.18 764.62L509.28 776.72H495.07ZM504.88 765.53L511.98 777.63H497.78ZM507.59 766.02L514.69 778.12H500.49ZM510.29 766.82L517.39 778.92H503.19ZM513.00 767.57L520.10 779.67H505.89ZM515.70 768.27L522.80 780.37H508.60ZM518.40 767.88L525.50 779.98H511.30ZM521.11 768.18L528.21 780.28H514.01ZM523.82 768.30L530.92 780.40H516.72ZM526.52 768.75L533.62 780.85H519.42ZM529.23 768.54L536.33 780.64H522.12ZM531.93 768.77L539.03 780.87H524.83ZM534.63 768.92L541.74 781.02H527.53ZM537.34 768.78L544.44 780.88H530.24ZM540.05 768.75L547.15 780.85H532.95ZM542.75 768.70L549.85 780.80H535.65ZM545.46 768.22L552.56 780.32H538.36ZM548.16 768.08L555.26 780.18H541.06ZM550.87 767.97L557.97 780.07H543.76ZM553.57 767.74L560.67 779.84H546.47ZM556.27 767.36L563.38 779.46H549.17ZM558.98 766.76L566.08 778.86H551.88ZM561.69 766.64L568.79 778.74H554.59ZM564.39 766.46L571.49 778.56H557.29ZM567.10 765.99L574.20 778.09H560.00ZM569.80 765.40L576.90 777.50H562.70ZM572.50 764.75L579.61 776.85H565.40ZM575.21 764.47L582.31 776.57H568.11ZM577.91 763.69L585.01 775.79H570.81ZM580.62 762.97L587.72 775.07H573.52ZM583.33 762.33L590.43 774.43H576.23ZM586.03 761.94L593.13 774.04H578.93ZM588.74 760.89L595.84 772.99H581.63ZM591.44 760.19L598.54 772.29H584.34ZM594.14 759.01L601.25 771.11H587.04ZM596.85 758.28L603.95 770.38H589.75ZM599.56 756.85L606.66 768.95H592.46ZM602.26 755.51L609.36 767.61H595.16ZM604.97 754.21L612.07 766.31H597.87ZM607.67 751.85L614.77 763.95H600.57ZM610.38 749.17L617.48 761.27H603.27ZM613.08 746.31L620.18 758.41H605.98ZM615.79 743.26L622.89 755.36H608.69ZM618.49 740.26L625.59 752.36H611.39ZM621.20 736.50L628.30 748.60H614.10ZM623.90 732.21L631.00 744.31H616.80ZM626.61 727.66L633.71 739.76H619.50ZM629.31 721.76L636.41 733.86H622.21ZM632.01 715.38L639.12 727.48H624.91ZM634.72 710.39L641.82 722.49H627.62ZM637.43 704.40L644.53 716.50H630.33ZM640.13 697.98L647.23 710.08H633.03ZM642.84 691.91L649.94 704.01H635.74ZM645.54 687.66L652.64 699.76H638.44ZM648.25 683.71L655.35 695.81H641.14ZM650.95 679.68L658.05 691.78H643.85ZM653.65 676.97L660.75 689.07H646.55ZM656.36 676.01L663.46 688.11H649.26ZM659.07 677.89L666.17 689.99H651.97ZM661.77 679.76L668.87 691.86H654.67ZM664.48 685.35L671.58 697.45H657.38ZM667.18 690.90L674.28 703.00H660.08ZM669.88 696.81L676.99 708.91H662.78ZM672.59 702.79L679.69 714.89H665.49ZM675.30 710.97L682.40 723.07H668.20ZM678.00 718.80L685.10 730.90H670.90ZM680.71 726.41L687.81 738.51H673.61ZM683.41 733.35L690.51 745.45H676.31ZM686.12 739.52L693.22 751.62H679.01ZM688.82 746.74L695.92 758.84H681.72ZM691.53 754.26L698.63 766.36H684.43ZM694.23 760.15L701.33 772.25H687.13ZM696.94 767.17L704.04 779.27H689.84ZM699.64 773.82L706.74 785.92H692.54ZM702.35 778.43L709.45 790.53H695.25ZM705.05 784.07L712.15 796.17H697.95ZM707.75 786.62L714.86 798.72H700.65ZM710.46 790.55L717.56 802.65H703.36ZM713.16 792.32L720.26 804.42H706.06ZM715.87 792.51L722.97 804.61H708.77ZM718.58 790.68L725.68 802.78H711.48ZM721.28 791.15L728.38 803.25H714.18ZM723.99 789.72L731.09 801.82H716.88ZM726.69 786.95L733.79 799.05H719.59ZM729.39 782.89L736.50 794.99H722.29ZM732.10 778.80L739.20 790.90H725.00Z"/>
</g>
</svg>
</body></html>
